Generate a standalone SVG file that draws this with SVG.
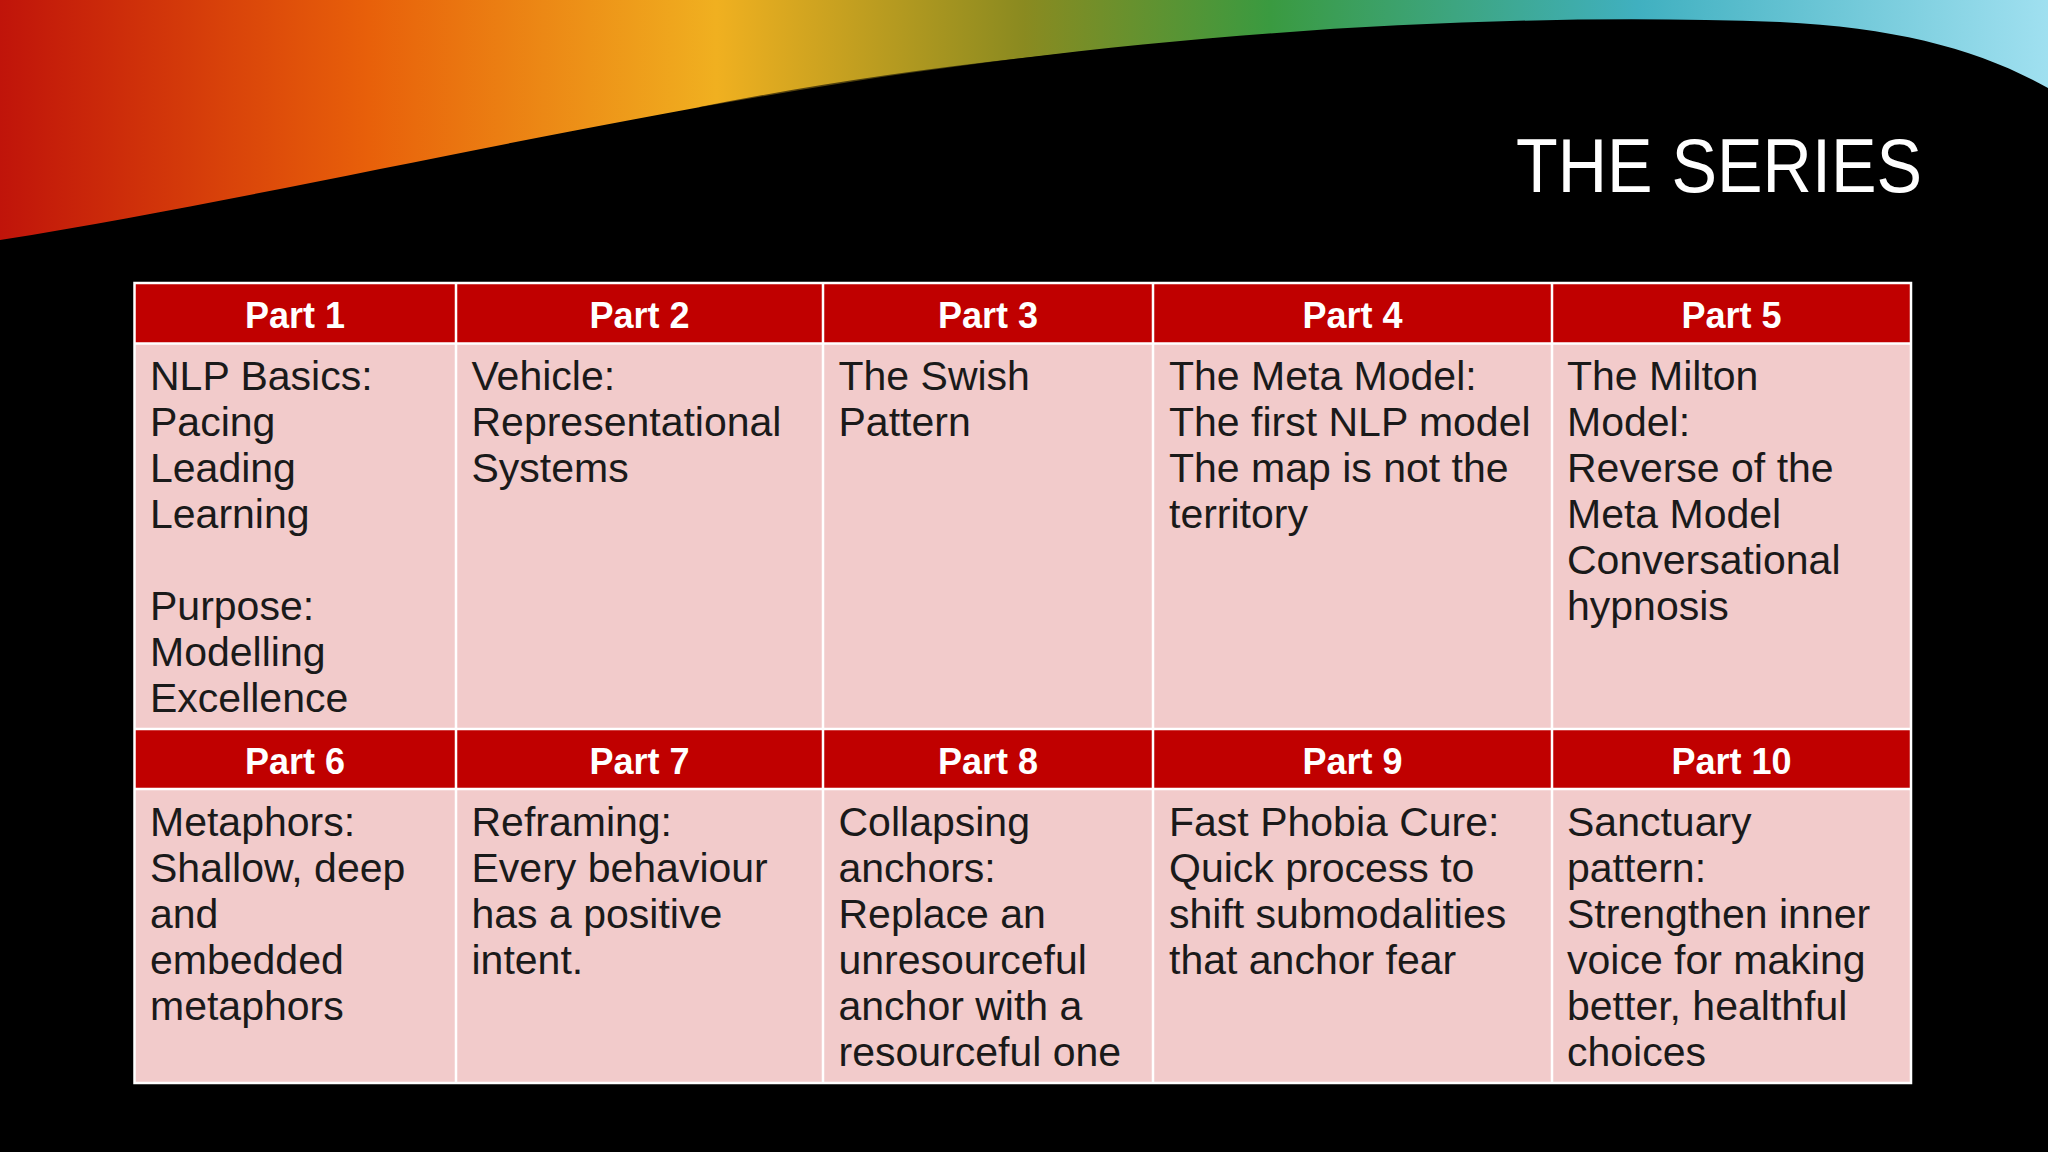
<svg xmlns="http://www.w3.org/2000/svg" width="2048" height="1152" viewBox="0 0 2048 1152">
<defs>
<linearGradient id="rb" x1="0" y1="0" x2="1" y2="0">
<stop offset="0" stop-color="#c0140a"/>
<stop offset="0.18" stop-color="#e8600a"/>
<stop offset="0.35" stop-color="#f0b020"/>
<stop offset="0.5" stop-color="#8a8a20"/>
<stop offset="0.62" stop-color="#3a9a40"/>
<stop offset="0.8" stop-color="#40b0c0"/>
<stop offset="1" stop-color="#a0e0f0"/>
</linearGradient>
</defs>
<style>
.h{font-family:"Liberation Sans",Arial,sans-serif;font-weight:bold;font-size:36px;fill:#fff;text-anchor:middle}
.b{font-family:"Liberation Sans",Arial,sans-serif;font-size:41px;fill:#1a1a1a}
.hd{fill:#c00000}
.bd{fill:#f2cbcb}
.ln{stroke:#fff;stroke-width:2.5;fill:none}
</style>
<rect width="2048" height="1152" fill="#000"/>
<path d="M0,0 L2048,0 L2048,88 C1980,50 1900,28 1780,22 C1450,10 1100,40 800,90 C500,140 250,200 0,240 Z" fill="url(#rb)"/>
<path d="M700,110 C1000,50 1400,20 1800,30 C1900,35 1990,60 2048,95" stroke="#000" stroke-width="6" fill="none" opacity="0.6"/>
<text x="1922" y="192" font-family="Liberation Sans,Arial,sans-serif" font-size="76" fill="#fff" text-anchor="end" textLength="406" lengthAdjust="spacingAndGlyphs">THE SERIES</text>
<g id="table">
<rect class="hd" x="134.5" y="283" width="1776.5" height="60.5"/>
<rect class="bd" x="134.5" y="343.5" width="1776.5" height="385.5"/>
<rect class="hd" x="134.5" y="729" width="1776.5" height="60"/>
<rect class="bd" x="134.5" y="789" width="1776.5" height="294"/>
<rect class="ln" x="134.5" y="283" width="1776.5" height="800"/>
<path class="ln" d="M134.5,343.5H1911M134.5,729H1911M134.5,789H1911M456,283V1083M823,283V1083M1153,283V1083M1552,283V1083"/>
</g>
<g id="headers">
<text class="h" x="295" y="328">Part 1</text>
<text class="h" x="639.5" y="328">Part 2</text>
<text class="h" x="988" y="328">Part 3</text>
<text class="h" x="1352.5" y="328">Part 4</text>
<text class="h" x="1731.5" y="328">Part 5</text>
<text class="h" x="295" y="774">Part 6</text>
<text class="h" x="639.5" y="774">Part 7</text>
<text class="h" x="988" y="774">Part 8</text>
<text class="h" x="1352.5" y="774">Part 9</text>
<text class="h" x="1731.5" y="774">Part 10</text>
</g>
<g id="p1"><text class="b" y="390"><tspan x="150">NLP Basics:</tspan><tspan x="150" dy="46">Pacing</tspan><tspan x="150" dy="46">Leading</tspan><tspan x="150" dy="46">Learning</tspan><tspan x="150" dy="92">Purpose:</tspan><tspan x="150" dy="46">Modelling</tspan><tspan x="150" dy="46">Excellence</tspan></text></g>
<g id="p2"><text class="b" y="390"><tspan x="471.5">Vehicle:</tspan><tspan x="471.5" dy="46">Representational</tspan><tspan x="471.5" dy="46">Systems</tspan></text></g>
<g id="p3"><text class="b" y="390"><tspan x="838.5">The Swish</tspan><tspan x="838.5" dy="46">Pattern</tspan></text></g>
<g id="p4"><text class="b" y="390"><tspan x="1169">The Meta Model:</tspan><tspan x="1169" dy="46">The first NLP model</tspan><tspan x="1169" dy="46">The map is not the</tspan><tspan x="1169" dy="46">territory</tspan></text></g>
<g id="p5"><text class="b" y="390"><tspan x="1567">The Milton</tspan><tspan x="1567" dy="46">Model:</tspan><tspan x="1567" dy="46">Reverse of the</tspan><tspan x="1567" dy="46">Meta Model</tspan><tspan x="1567" dy="46">Conversational</tspan><tspan x="1567" dy="46">hypnosis</tspan></text></g>
<g id="p6"><text class="b" y="836"><tspan x="150">Metaphors:</tspan><tspan x="150" dy="46">Shallow, deep</tspan><tspan x="150" dy="46">and</tspan><tspan x="150" dy="46">embedded</tspan><tspan x="150" dy="46">metaphors</tspan></text></g>
<g id="p7"><text class="b" y="836"><tspan x="471.5">Reframing:</tspan><tspan x="471.5" dy="46">Every behaviour</tspan><tspan x="471.5" dy="46">has a positive</tspan><tspan x="471.5" dy="46">intent.</tspan></text></g>
<g id="p8"><text class="b" y="836"><tspan x="838.5">Collapsing</tspan><tspan x="838.5" dy="46">anchors:</tspan><tspan x="838.5" dy="46">Replace an</tspan><tspan x="838.5" dy="46">unresourceful</tspan><tspan x="838.5" dy="46">anchor with a</tspan><tspan x="838.5" dy="46">resourceful one</tspan></text></g>
<g id="p9"><text class="b" y="836"><tspan x="1169">Fast Phobia Cure:</tspan><tspan x="1169" dy="46">Quick process to</tspan><tspan x="1169" dy="46">shift submodalities</tspan><tspan x="1169" dy="46">that anchor fear</tspan></text></g>
<g id="p10"><text class="b" y="836"><tspan x="1567">Sanctuary</tspan><tspan x="1567" dy="46">pattern:</tspan><tspan x="1567" dy="46">Strengthen inner</tspan><tspan x="1567" dy="46">voice for making</tspan><tspan x="1567" dy="46">better, healthful</tspan><tspan x="1567" dy="46">choices</tspan></text></g>
</svg>
